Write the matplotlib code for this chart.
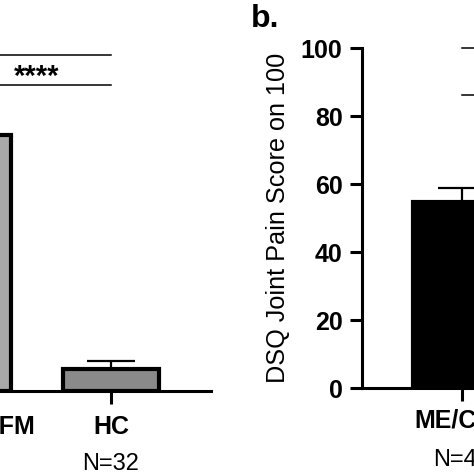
import matplotlib
matplotlib.use("Agg")
import matplotlib.pyplot as plt
from matplotlib.transforms import blended_transform_factory

plt.rcParams['font.family'] = ['Liberation Sans', 'DejaVu Sans']

# panel a (only the right part is visible)
groups_a = ["ME/CFS", "ME/CFS+FM", "HC"]
means_a = [80.0, 75.3, 6.5]
errs_a = [3.0, 3.0, 2.3]
colors_a = ["#4d4d4d", "#a9a9a9", "#8a8a8a"]
n_a = ["N=46", "N=20", "N=32"]
sig_a = [(0, 2, 98.8, "****"), (1, 2, 90.0, "****")]

# panel b
groups_b = ["ME/CFS", "FM", "HC"]
means_b = [54.7, 60.0, 8.0]
errs_b = [4.1, 4.0, 2.0]
colors_b = ["black", "#a9a9a9", "#8a8a8a"]
n_b = ["N=46", "N=20", "N=32"]
sig_b = [(0, 2, 100.0, "****"), (0, 1, 86.2, "ns")]

W = 474
fig = plt.figure(figsize=(4.74, 4.74), dpi=100)
lw = 2.2
bar_w = 0.655
span = 100 / 148  # axis margin in category units


def px(l, b, w, h):
    return [l / W, b / W, w / W, h / W]


def panel(ax, groups, means, errs, colors, ns, sigs, xpad, ny):
    x = list(range(len(groups)))
    ax.bar(x, means, width=bar_w, color=colors, edgecolor="black", linewidth=3, zorder=2)
    ax.errorbar(x, means, yerr=[[0] * len(errs), errs], fmt="none", ecolor="black",
                elinewidth=1.6, capsize=17, capthick=1.6, zorder=1)
    ax.set_xlim(-span, len(groups) - 1 + span)
    ax.set_ylim(0, 100)
    ax.set_xticks(x)
    ax.set_xticklabels(groups, fontsize=18, fontweight="bold")
    ax.tick_params(axis="x", length=9, width=lw, pad=xpad)
    ax.tick_params(axis="y", length=9, width=lw, labelsize=18, pad=5)
    for t in ax.get_yticklabels():
        t.set_fontweight("bold")
    for s in ["top", "right"]:
        ax.spines[s].set_visible(False)
    for s in ["left", "bottom"]:
        ax.spines[s].set_linewidth(lw)
    tr = blended_transform_factory(ax.transData, ax.transAxes)
    for xi, n in zip(x, ns):
        ax.text(xi, ny, n, transform=tr, ha="center", va="center", fontsize=17,
                clip_on=False)
    for a, b, y, label in sigs:
        ax.plot([a, b], [y, y], color="black", lw=1.1, clip_on=False)
        ax.text((a + b) / 2, y + 0.1, label, ha="center", va="baseline", fontsize=21,
                fontweight="bold", clip_on=False)


ax1 = fig.add_axes(px(-285, 83, 496, 340))
panel(ax1, groups_a, means_a, errs_a, colors_a, n_a, sig_a, 8, -0.215)

ax2 = fig.add_axes(px(362, 86, 494, 340))
panel(ax2, groups_b, means_b, errs_b, colors_b, n_b, sig_b, 6, -0.212)
ax2.set_yticks([0, 20, 40, 60, 80, 100])
ax2.set_ylabel("DSQ Joint Pain Score on 100", fontsize=18.2, labelpad=8)

fig.text(251 / W, 1 - 27 / W, "b.", fontsize=23, fontweight="bold", ha="left", va="baseline")

fig.savefig("out.png", dpi=100)
